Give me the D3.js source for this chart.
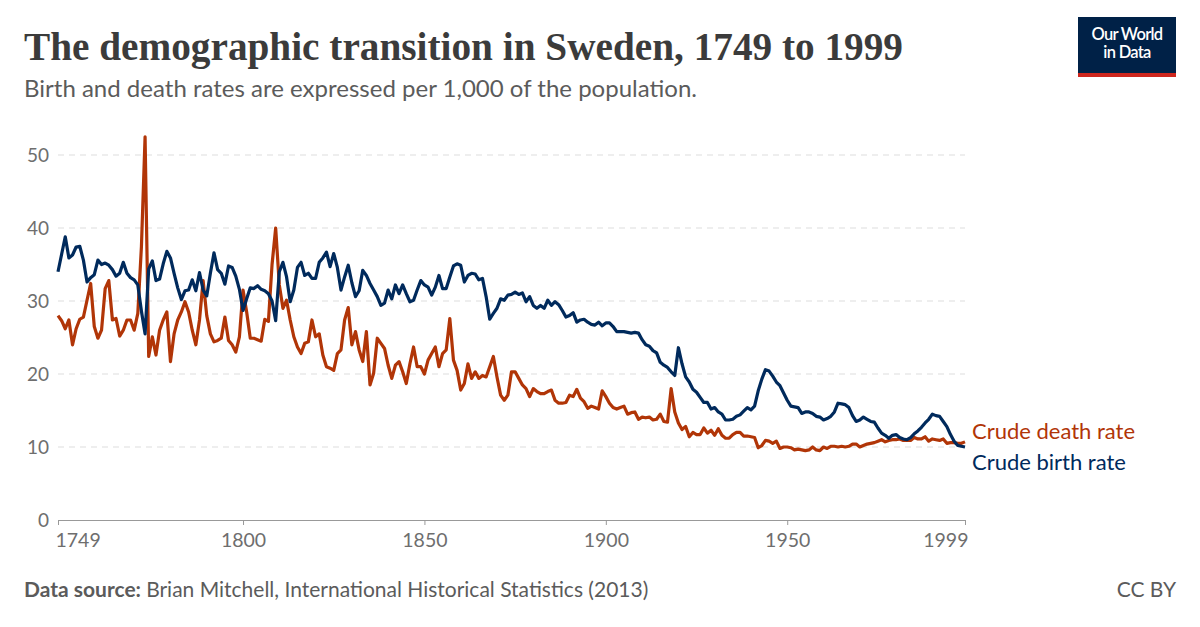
<!DOCTYPE html>
<html>
<head>
<meta charset="utf-8">
<script src="https://cdn.jsdelivr.net/npm/d3@7"></script>
<style>
  body { margin: 0; background: #fff; }
  svg { display: block; font-family: Lato, "Noto Sans", sans-serif; }
</style>
</head>
<body>
<div id="chart"></div>
<script>
const width = 1200;
const height = 627;

// crude rates per 1,000, one value per year from 1749 to 1999
const birthRate = [
  34.0, 36.4, 38.8, 35.9, 36.3, 37.4, 37.5, 35.6, 32.6, 33.2, 33.6,
  35.6, 35.0, 35.2, 34.9, 34.3, 33.4, 33.8, 35.3, 33.8, 33.2,
  32.9, 32.2, 28.6, 25.5, 34.4, 35.5, 32.8, 33.0, 35.1, 36.8,
  35.9, 33.8, 31.8, 30.2, 31.4, 31.5, 32.9, 31.4, 33.9, 31.5,
  30.7, 33.8, 36.6, 34.3, 33.8, 32.3, 34.8, 34.6, 33.4, 31.6,
  28.7, 30.3, 31.8, 31.7, 32.1, 31.6, 31.4, 31.0, 30.0, 27.3,
  34.0, 35.3, 33.3, 29.9, 31.5, 34.6, 35.3, 33.5, 33.8, 33.1,
  33.1, 35.3, 35.9, 36.7, 34.7, 36.5, 34.6, 31.5, 33.3, 34.9,
  32.5, 30.6, 31.4, 34.2, 33.5, 32.4, 31.5, 30.6, 29.4, 29.7,
  31.5, 30.3, 32.2, 31.0, 32.2, 31.0, 29.9, 30.1, 31.5, 32.8,
  32.2, 31.9, 30.8, 31.9, 33.5, 31.7, 31.7, 33.3, 34.8, 35.1,
  34.9, 32.6, 33.5, 33.8, 33.7, 32.9, 33.1, 30.6, 27.5, 28.3,
  29.0, 30.3, 30.1, 30.8, 30.9, 31.2, 30.9, 31.1, 29.9, 30.6,
  29.4, 29.0, 29.4, 29.0, 30.1, 29.4, 29.9, 29.5, 28.7, 27.8,
  28.0, 28.4, 27.1, 27.4, 27.5, 27.1, 26.8, 26.7, 27.1, 26.6,
  27.0, 27.0, 26.5, 25.8, 25.8, 25.8, 25.7, 25.6, 25.7, 25.6,
  24.7, 24.0, 23.8, 23.2, 22.9, 21.6, 21.2, 20.9, 20.3, 19.8,
  23.6, 21.4, 19.6, 18.9, 17.9, 17.5, 16.8, 16.1, 16.1, 15.2,
  15.4, 14.8, 14.5, 13.7, 13.7, 13.8, 14.2, 14.4, 14.9, 15.4,
  15.1, 15.6, 17.7, 19.3, 20.6, 20.4, 19.7, 18.9, 18.4, 17.4,
  16.4, 15.6, 15.5, 15.4, 14.6, 14.8, 14.8, 14.6, 14.2, 14.1,
  13.7, 13.9, 14.2, 14.8, 16.0, 15.9, 15.8, 15.4, 14.3, 13.5,
  13.7, 14.1, 13.8, 13.5, 13.4, 12.6, 11.9, 11.6, 11.2, 11.6,
  11.7, 11.3, 11.1, 11.0, 11.3, 11.8, 12.2, 12.7, 13.3, 13.8,
  14.5, 14.3, 14.2, 13.5, 12.8, 11.7, 10.8, 10.2, 10.1, 10.0
];

const deathRate = [
  28.0, 27.3, 26.2, 27.4, 24.0, 26.2, 27.5, 27.8, 30.1, 32.4, 26.5,
  24.9, 26.0, 31.7, 32.8, 27.4, 27.6, 25.2, 26.0, 27.4, 27.4,
  26.0, 28.3, 37.5, 52.5, 22.4, 25.1, 22.6, 26.0, 27.4, 28.5,
  21.7, 25.5, 27.4, 28.5, 29.9, 28.5, 26.0, 24.0, 27.4, 32.8,
  28.0, 25.5, 24.4, 24.6, 24.9, 27.8, 24.6, 24.0, 23.0, 25.1,
  31.5, 28.5, 24.9, 24.9, 24.7, 24.5, 27.5, 27.2, 35.0, 40.0,
  32.2, 29.0, 30.1, 27.4, 25.1, 23.7, 22.8, 24.2, 24.4, 27.4,
  25.1, 25.5, 22.6, 21.0, 20.8, 20.5, 22.8, 23.3, 27.4, 29.1,
  24.0, 25.8, 23.3, 21.7, 25.8, 18.5, 20.1, 24.9, 24.2, 23.5,
  21.2, 19.4, 21.2, 21.7, 20.3, 18.7, 21.4, 23.7, 21.0, 21.0,
  20.0, 21.9, 22.8, 23.7, 21.0, 22.8, 23.3, 27.6, 21.9, 20.5,
  17.8, 18.7, 21.4, 19.4, 20.3, 19.4, 19.8, 19.6, 21.0, 22.4,
  19.6, 17.1, 16.4, 17.1, 20.3, 20.3, 19.4, 18.5, 18.0, 16.9,
  18.0, 17.6, 17.3, 17.3, 17.6, 17.8, 16.4, 16.0, 16.0, 16.1,
  17.1, 16.9, 17.9, 16.7, 16.2, 15.3, 15.6, 15.4, 15.2, 17.7,
  16.9, 16.0, 15.4, 15.2, 15.4, 15.6, 14.5, 14.7, 14.8, 13.8,
  14.1, 14.0, 14.1, 13.7, 13.8, 14.5, 13.5, 13.4, 18.0, 14.8,
  13.3, 12.4, 12.8, 11.4, 12.0, 11.7, 11.7, 12.6, 11.9, 12.3,
  11.6, 12.5, 11.6, 11.2, 11.2, 11.7, 12.0, 12.0, 11.5, 11.5,
  11.4, 11.3, 9.9, 10.2, 10.9, 10.8, 10.5, 10.8, 9.8, 10.0,
  10.0, 9.9, 9.6, 9.7, 9.6, 9.5, 9.6, 10.0, 9.6, 9.5,
  10.0, 9.8, 10.1, 10.1, 10.0, 10.1, 10.0, 10.1, 10.4, 10.4,
  10.0, 10.2, 10.4, 10.5, 10.6, 10.8, 11.0, 10.7, 10.9, 11.0,
  11.0, 11.1, 10.9, 10.9, 10.9, 11.3, 11.1, 11.1, 11.4, 10.8,
  11.1, 11.0, 10.9, 11.1, 10.5, 10.6, 10.6, 10.5, 10.5, 10.7
];

const firstYear = 1749;
const years = birthRate.map((_, i) => firstYear + i);
const xTicks = [1749, 1800, 1850, 1900, 1950, 1999];
const yTicks = [0, 10, 20, 30, 40, 50];

const series = [
  { name: "Crude death rate", values: deathRate, color: "#b13507", labelY: 431 },
  { name: "Crude birth rate", values: birthRate, color: "#002a5c", labelY: 462 }
];

const margin = { top: 128, right: 235, bottom: 107, left: 58 };

const svg = d3.select("#chart")
  .append("svg")
  .attr("width", width)
  .attr("height", height);

const x = d3.scaleLinear()
  .domain([1749, 1999])
  .range([margin.left, width - margin.right]);

const y = d3.scaleLinear()
  .domain([0, 50])
  .range([height - margin.bottom, 155]);

// header
svg.append("text")
  .attr("x", 24)
  .attr("y", 60)
  .attr("font-family", "'Liberation Serif', 'DejaVu Serif', serif")
  .attr("font-size", 40)
  .attr("font-weight", 700)
  .attr("fill", "#3b3b3b")
  .attr("textLength", 879)
  .attr("lengthAdjust", "spacingAndGlyphs")
  .text("The demographic transition in Sweden, 1749 to 1999");

svg.append("text")
  .attr("x", 24)
  .attr("y", 97)
  .attr("font-size", 23)
  .attr("fill", "#5b5b5b")
  .attr("textLength", 673)
  .attr("lengthAdjust", "spacingAndGlyphs")
  .text("Birth and death rates are expressed per 1,000 of the population.");

// logo
const logo = svg.append("g").attr("transform", "translate(1078,17)");
logo.append("rect").attr("width", 98).attr("height", 60).attr("fill", "#002147");
logo.append("rect").attr("y", 56).attr("width", 98).attr("height", 4).attr("fill", "#ce261e");
logo.selectAll("text.logo")
  .data(["Our World", "in Data"])
  .join("text")
  .attr("class", "logo")
  .attr("x", 49)
  .attr("y", (d, i) => 23 + i * 18)
  .attr("text-anchor", "middle")
  .attr("font-size", 16.5)
  .attr("font-weight", 600)
  .attr("letter-spacing", -0.7)
  .attr("fill", "#fff")
  .text(d => d);

// grid and y labels
svg.append("g")
  .selectAll("line")
  .data(yTicks.filter(d => d > 0))
  .join("line")
  .attr("x1", margin.left)
  .attr("x2", x(1999))
  .attr("y1", d => y(d))
  .attr("y2", d => y(d))
  .attr("stroke", "#dddddd")
  .attr("stroke-dasharray", "6,5");

svg.append("g")
  .selectAll("text")
  .data(yTicks)
  .join("text")
  .attr("x", 49)
  .attr("y", d => y(d))
  .attr("dy", "0.35em")
  .attr("text-anchor", "end")
  .attr("font-size", 19)
  .attr("fill", "#6e6e6e")
  .text(d => d);

// x axis
const xAxis = svg.append("g")
  .attr("transform", `translate(0,${y(0)})`)
  .call(d3.axisBottom(x).tickValues(xTicks).tickFormat(d3.format("d")).tickSize(5).tickPadding(8));

xAxis.select(".domain").attr("stroke", "#999");
xAxis.selectAll(".tick line").attr("stroke", "#999");
xAxis.selectAll(".tick text")
  .attr("font-family", "Lato, sans-serif")
  .attr("font-size", 19.5)
  .attr("fill", "#6e6e6e")
  .attr("text-anchor", d => d === 1749 ? "start" : d === 1999 ? "end" : "middle")
  .attr("dx", d => d === 1749 ? -3 : d === 1999 ? 3 : 0);

// lines
const line = d3.line()
  .x((d, i) => x(years[i]))
  .y(d => y(d));

svg.append("g")
  .selectAll("path")
  .data(series)
  .join("path")
  .attr("fill", "none")
  .attr("stroke", d => d.color)
  .attr("stroke-width", 3.2)
  .attr("stroke-linejoin", "round")
  .attr("d", d => line(d.values));

svg.append("g")
  .selectAll("text")
  .data(series)
  .join("text")
  .attr("x", 972)
  .attr("y", d => d.labelY)
  .attr("dy", "0.35em")
  .attr("font-size", 22)
  .attr("fill", d => d.color)
  .text(d => d.name);

// footer
const footer = svg.append("text")
  .attr("x", 24)
  .attr("y", 597)
  .attr("font-size", 21)
  .attr("fill", "#5b5b5b");
footer.append("tspan").attr("font-weight", 700).text("Data source: ");
footer.append("tspan").text("Brian Mitchell, International Historical Statistics (2013)");

svg.append("text")
  .attr("x", 1176)
  .attr("y", 597)
  .attr("text-anchor", "end")
  .attr("font-size", 21)
  .attr("fill", "#5b5b5b")
  .text("CC BY");
</script>
</body>
</html>
